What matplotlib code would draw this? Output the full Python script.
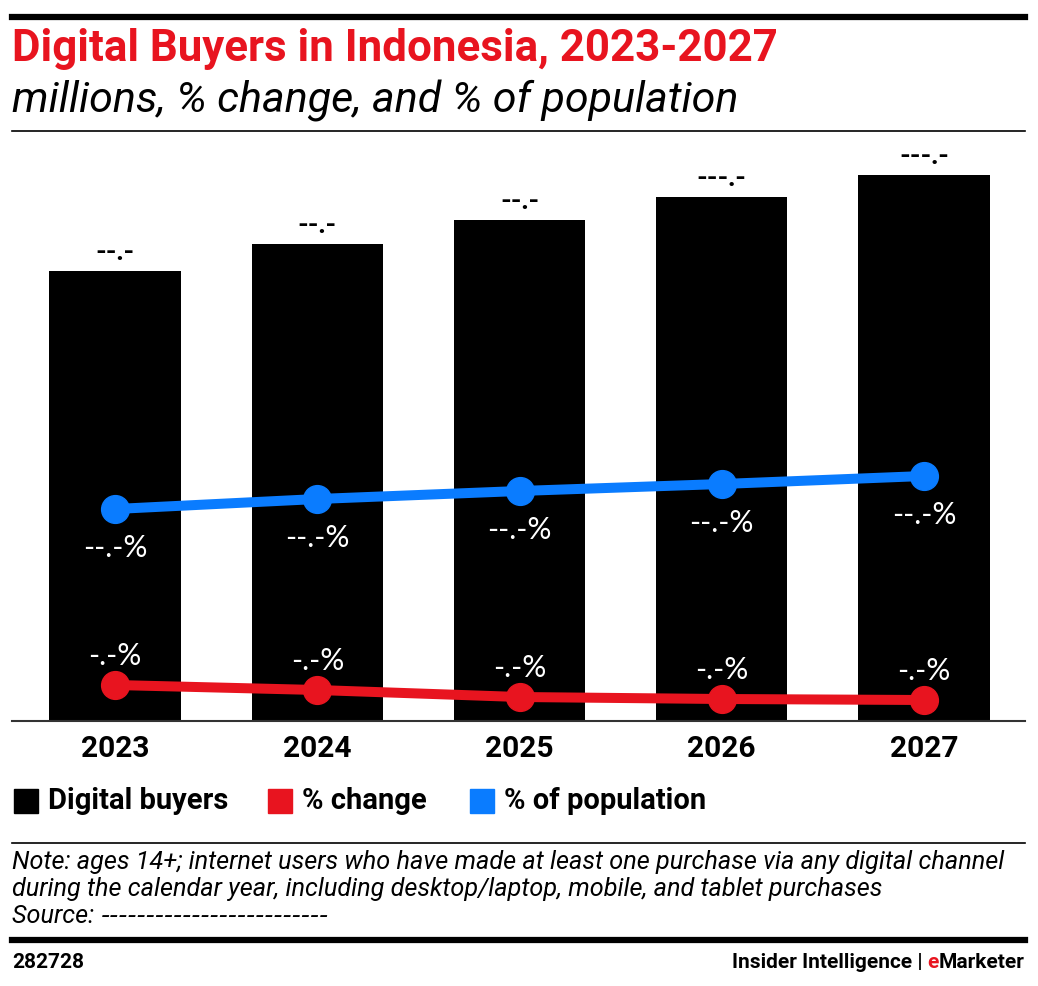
import matplotlib
matplotlib.use("Agg")
import matplotlib.pyplot as plt
from matplotlib.lines import Line2D
from matplotlib.patches import Rectangle

plt.rcParams['font.family'] = ['Roboto', 'DejaVu Sans']

years = ["2023", "2024", "2025", "2026", "2027"]
buyers = [90.0, 95.4, 100.2, 104.8, 109.2]          # millions (estimated)
pct_change = [7.2, 6.2, 4.8, 4.4, 4.2]              # % (estimated)
pct_population = [42.4, 44.4, 46.0, 47.4, 49.0]     # % (estimated)
buyer_labels = ["--.-", "--.-", "--.-", "---.-", "---.-"]
change_labels = ["-.-%", "-.-%", "-.-%", "-.-%", "-.-%"]
pop_labels = ["--.-%", "--.-%", "--.-%", "--.-%", "--.-%"]

RED = "#E8141F"
BLUE = "#0A7CFF"
W, H = 1038, 986
LABF = ['Lato', 'DejaVu Sans']

fig = plt.figure(figsize=(W / 100, H / 100), dpi=100)

def fx(px): return px / W
def fy(py): return 1 - py / H

ax = fig.add_axes([fx(12), fy(721), fx(1025) - fx(12), fy(150) - fy(721)])
x = list(range(len(years)))
ax.bar(x, buyers, width=0.65, color="black", zorder=2)
ax.set_xlim(-0.51, 4.50)
ax.set_ylim(0, 114.2)
for s in ["top", "right", "left"]:
    ax.spines[s].set_visible(False)
ax.spines["bottom"].set_color("#333333")
ax.spines["bottom"].set_linewidth(1.5)
ax.set_yticks([])
ax.set_xticks(x)
ax.set_xticklabels(years, fontsize=21.5, fontweight="bold")
ax.tick_params(axis="x", length=0, pad=10)
for xi, v, lab in zip(x, buyers, buyer_labels):
    ax.annotate(lab, (xi, v), xytext=(0, 4), textcoords="offset points",
                ha="center", va="bottom", fontsize=21, fontweight="bold", color="black",
                family=LABF)

ax2 = ax.twinx()
ax2.set_ylim(0, 114.2)
ax2.set_yticks([])
for s in ax2.spines.values():
    s.set_visible(False)
ax2.plot(x, pct_population, color=BLUE, lw=7.2, marker="o", ms=20, zorder=3, solid_capstyle="round")
ax2.plot(x, pct_change, color=RED, lw=7.2, marker="o", ms=20, zorder=3, solid_capstyle="round")
for xi, v, lab in zip(x, pct_population, pop_labels):
    ax2.annotate(lab, (xi, v), xytext=(0, -18), textcoords="offset points",
                 ha="center", va="top", fontsize=21.5, color="white", family=LABF)
for xi, v, lab in zip(x, pct_change, change_labels):
    ax2.annotate(lab, (xi, v), xytext=(0, 11), textcoords="offset points",
                 ha="center", va="bottom", fontsize=21.5, color="white", family=LABF)

# Decorative lines
def hline(py, lw, color="black"):
    fig.add_artist(Line2D([fx(12), fx(1025)], [fy(py), fy(py)], lw=lw, color=color))

hline(16.5, 4.5)
hline(131, 1.2)
hline(843, 1.2)
hline(940, 4.5)

fig.text(fx(12), fy(49), "Digital Buyers in Indonesia, 2023-2027", color=RED,
         fontsize=31.6, fontweight="bold", va="center", ha="left")
fig.text(fx(12), fy(101), "millions, % change, and % of population", color="black",
         fontsize=31, style="italic", va="center", ha="left")

# Legend
leg = [("Digital buyers", "black", 14), ("% change", RED, 268), ("% of population", BLUE, 470)]
for lab, col, px in leg:
    fig.add_artist(Rectangle((fx(px), fy(813)), fx(24), fy(789) - fy(813), color=col))
    fig.text(fx(px + 34), fy(801), lab, fontsize=21, fontweight="bold", va="center", ha="left")

note_lines = ["Note: ages 14+; internet users who have made at least one purchase via any digital channel",
              "during the calendar year, including desktop/laptop, mobile, and tablet purchases"]
for i, ln in enumerate(note_lines):
    fig.text(fx(12), fy(862 + 27 * i), ln, fontsize=18.2, style="italic", va="center", ha="left")

fig.canvas.draw()
r = fig.canvas.get_renderer()
t_src = fig.text(fx(12), fy(916), "Source: ", fontsize=18.2, style="italic", va="center", ha="left")
bbs = t_src.get_window_extent(r)
fig.text(bbs.x1 / W, fy(916), "-------------------------", fontsize=18.2, style="italic",
         va="center", ha="left", family=['DejaVu Sans'])

FS = 15
fig.text(fx(12), fy(962), "282728", fontsize=FS, fontweight="bold", va="center", ha="left")
t_m = fig.text(fx(1025), fy(962), "Marketer", fontsize=FS, fontweight="bold", va="center", ha="right", color="black")
bb = t_m.get_window_extent(r)
t_e = fig.text(bb.x0 / W, fy(962), "e", fontsize=FS, fontweight="bold", va="center", ha="right", color=RED)
bb2 = t_e.get_window_extent(r)
fig.text(bb2.x0 / W, fy(962), "Insider Intelligence | ", fontsize=FS, fontweight="bold",
         va="center", ha="right", color="black")

fig.savefig("out.png", dpi=100)
